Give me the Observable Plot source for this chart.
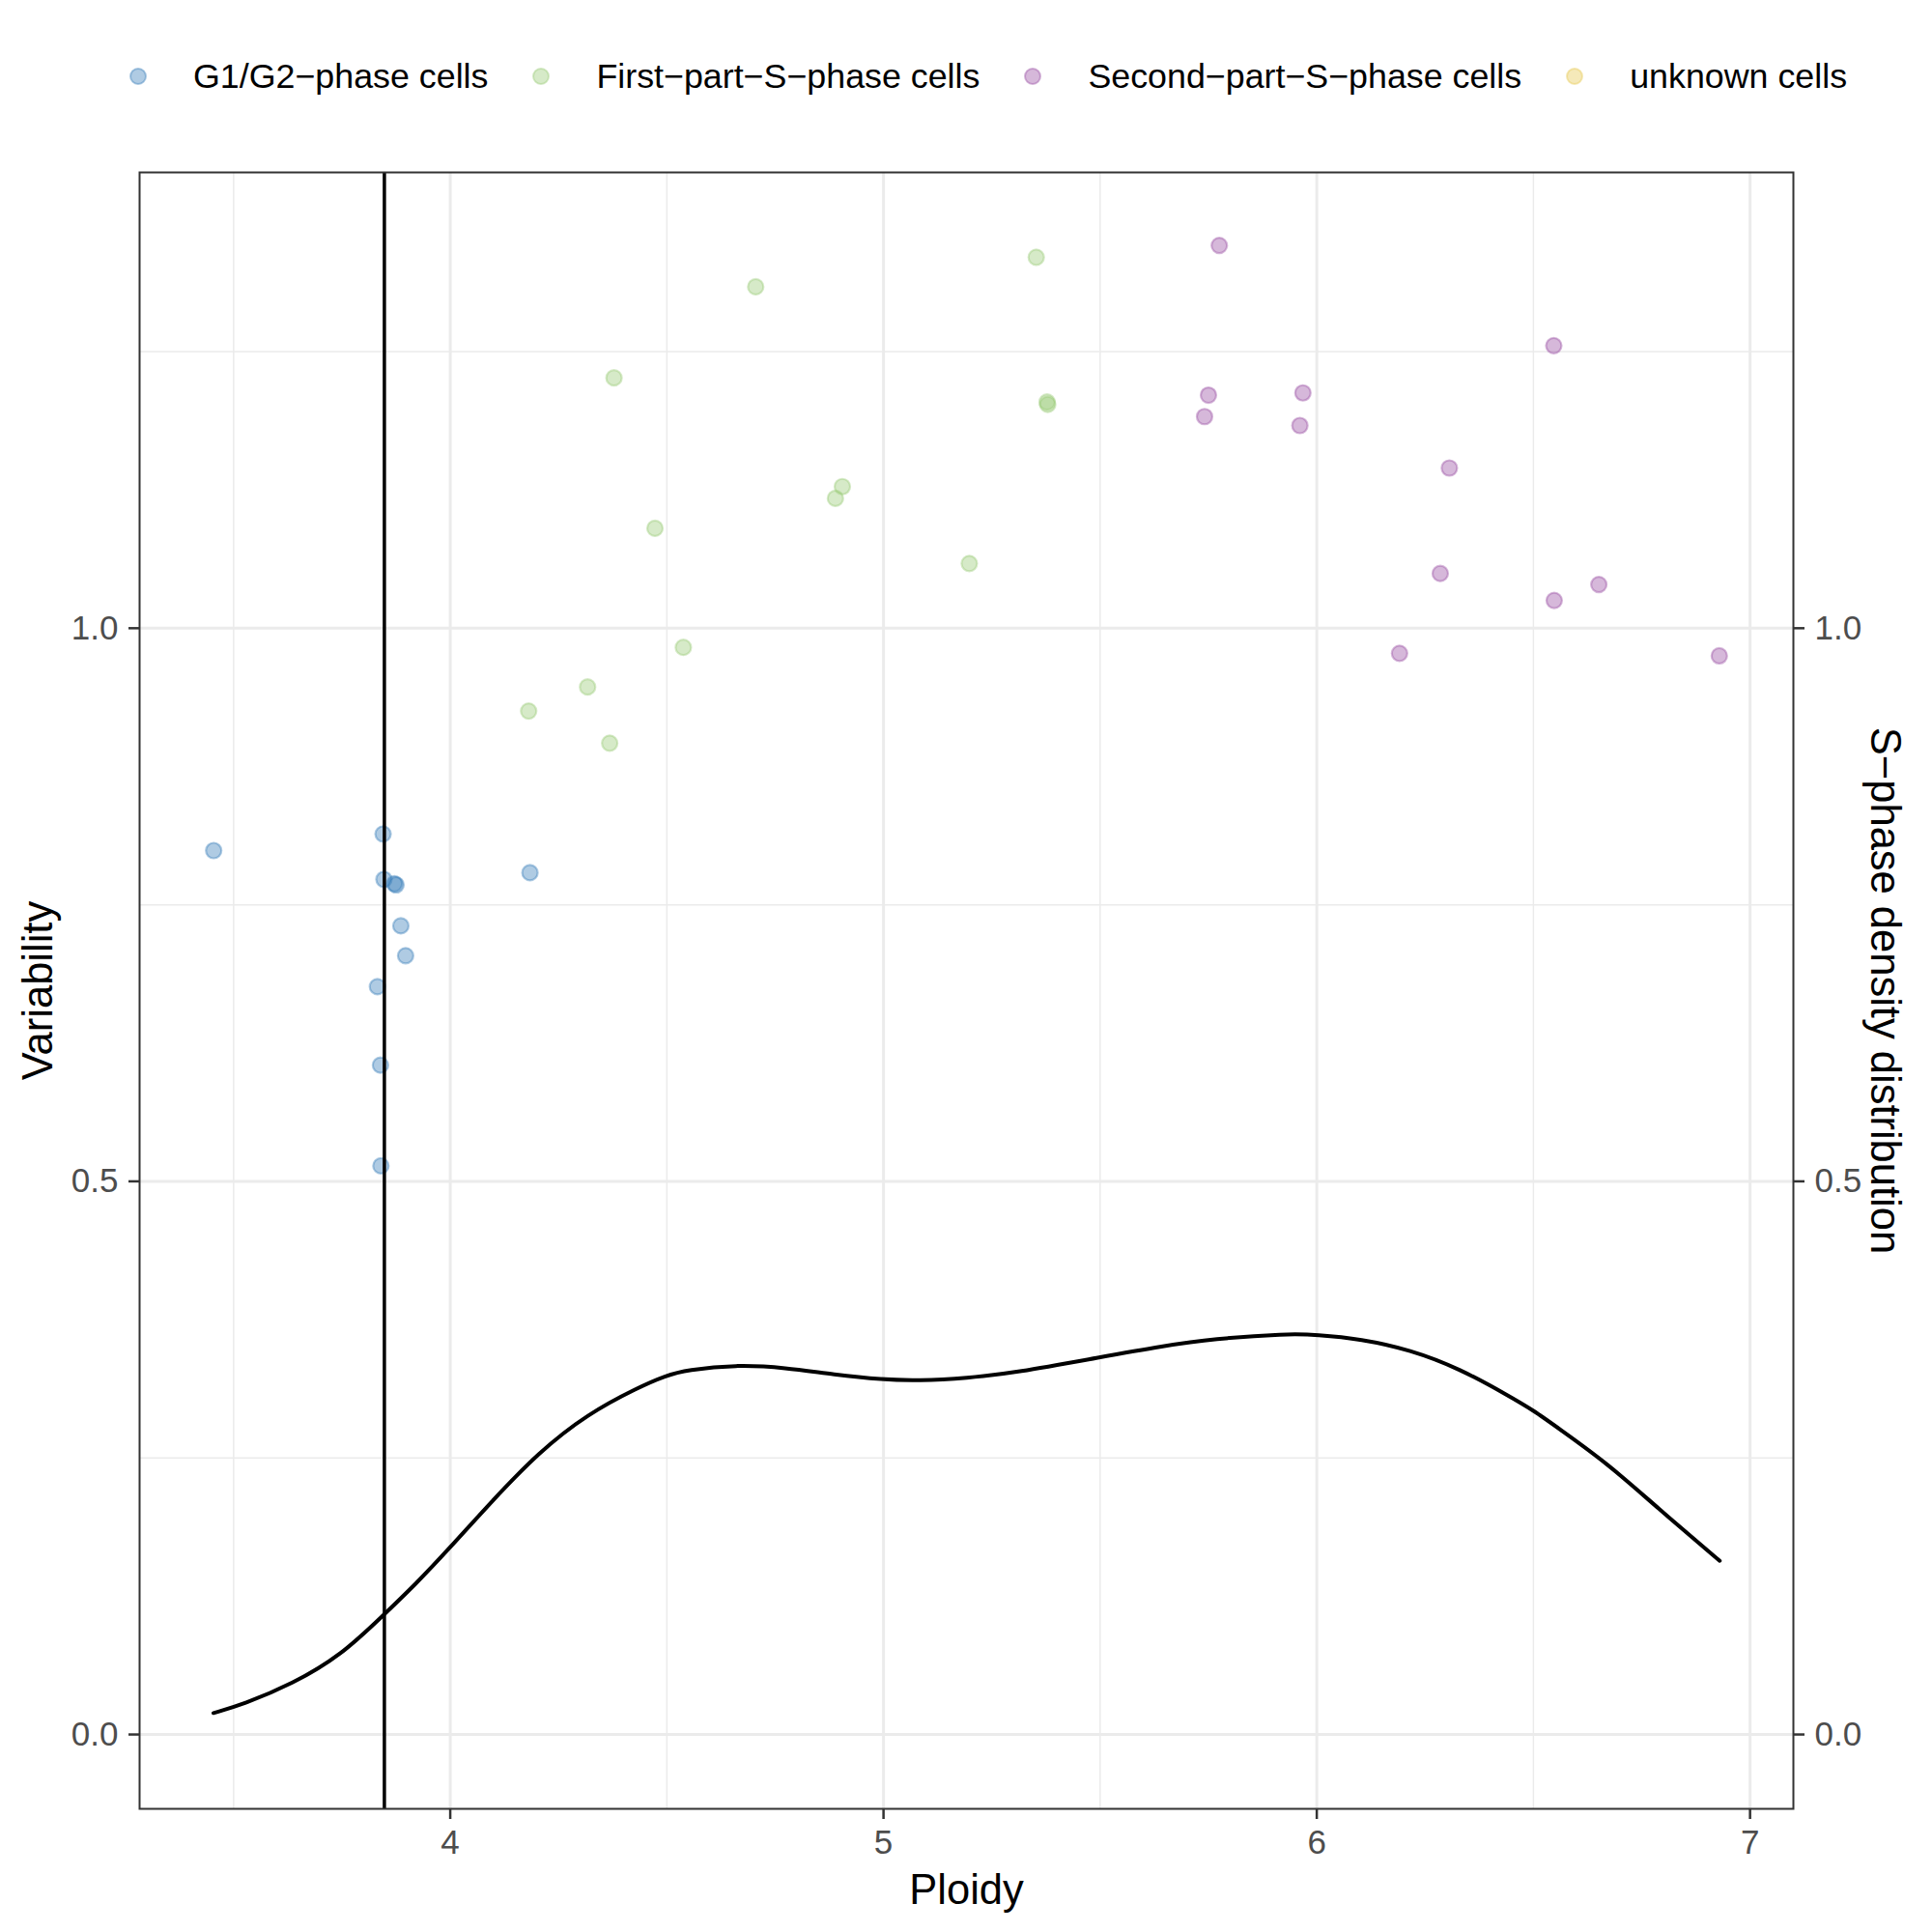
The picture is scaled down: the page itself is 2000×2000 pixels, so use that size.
<!DOCTYPE html>
<html>
<head>
<meta charset="utf-8">
<script src="https://cdn.jsdelivr.net/npm/d3@7"></script>
<script src="https://cdn.jsdelivr.net/npm/@observablehq/plot@0.6"></script>
<style>
  body { margin: 0; background: #fff; font-family: "Liberation Sans", Arial, Helvetica, sans-serif; }
  #page { width: 2000px; background: #fff; }
  #legend { box-sizing: border-box; height: 140px; padding-top: 59px; padding-left: 133px; display: flex; align-items: flex-start; }
  .item { display: flex; align-items: center; height: 40px; margin-right: 45px; }
  .key { width: 20px; height: 20px; margin-right: 47px; display: block; }
  .label { font-size: 35.8px; line-height: 40px; color: #000; white-space: nowrap; }
</style>
</head>
<body>
<div id="page">
  <div id="legend"></div>
  <div id="chart"></div>
</div>
<script>
// ---- data ----
const categories = ["G1/G2\u2212phase cells", "First\u2212part\u2212S\u2212phase cells", "Second\u2212part\u2212S\u2212phase cells", "unknown cells"];
const colors = ["#377EB8", "#99CA75", "#984EA3", "#E6C850"];

const g1Ploidy = [3.454, 3.845, 3.847, 3.871, 3.875, 3.886, 3.897, 3.832, 3.839, 3.840, 4.184];
const g1Variability = [0.799, 0.814, 0.773, 0.769, 0.768, 0.731, 0.704, 0.676, 0.605, 0.514, 0.779];

const firstPloidy = [4.705, 5.3525, 4.378, 5.3775, 5.379, 4.905, 4.889, 4.4725, 5.198, 4.538, 4.317, 4.181, 4.368];
const firstVariability = [1.3086, 1.3353, 1.2263, 1.2045, 1.2023, 1.128, 1.1174, 1.0903, 1.0585, 0.9827, 0.9469, 0.9251, 0.8961];

const secondPloidy = [5.775, 6.547, 5.750, 5.968, 5.741, 5.961, 6.306, 6.285, 6.651, 6.548, 6.191, 6.929];
const secondVariability = [1.346, 1.2554, 1.2107, 1.2127, 1.1913, 1.1832, 1.1448, 1.0495, 1.0395, 1.0251, 0.9773, 0.975];

const unknownPloidy = [];
const unknownVariability = [];

const densityPloidy = [3.4535, 3.522, 3.6355, 3.749, 3.846, 3.920, 3.997, 4.0905, 4.204, 4.318, 4.432, 4.498, 4.546, 4.659, 4.773, 4.887, 4.998, 5.080, 5.192, 5.3055, 5.499, 5.647, 5.7605, 5.931, 5.999, 6.102, 6.2155, 6.329, 6.443, 6.500, 6.557, 6.671, 6.784, 6.930];
const densityValue = [0.0194, 0.0272, 0.0456, 0.0718, 0.108, 0.1358, 0.1678, 0.2086, 0.2552, 0.290, 0.3134, 0.3245, 0.3294, 0.3343, 0.3317, 0.3251, 0.3207, 0.3198, 0.3221, 0.3271, 0.341, 0.3513, 0.3576, 0.3623, 0.3614, 0.3576, 0.3478, 0.3309, 0.3061, 0.293, 0.277, 0.245, 0.2057, 0.157];

const threshold = 3.848;

const xMajor = [4, 5, 6, 7];
const xMinor = [3.5, 4.5, 5.5, 6.5];
const yMajor = [0, 0.5, 1.0];
const yMinor = [0.25, 0.75, 1.25];
const xDomain = [3.283, 7.100];
const yDomain = [-0.0672, 1.412];

// ---- build tables ----
const groups = [
  [g1Ploidy, g1Variability],
  [firstPloidy, firstVariability],
  [secondPloidy, secondVariability],
  [unknownPloidy, unknownVariability]
];
const cells = [];
groups.forEach(([xs, ys], i) => xs.forEach((x, j) => cells.push({ploidy: x, variability: ys[j], type: categories[i]})));
const density = densityPloidy.map((x, i) => ({ploidy: x, value: densityValue[i]}));

// ---- legend ----
const legend = d3.select("#legend");
categories.forEach((c, i) => {
  const item = legend.append("div").attr("class", "item");
  const svg = item.append("svg").attr("class", "key").attr("width", 20).attr("height", 20);
  svg.append("circle").attr("cx", 10).attr("cy", 10).attr("r", 8)
    .attr("fill", colors[i]).attr("fill-opacity", 0.4)
    .attr("stroke", colors[i]).attr("stroke-opacity", 0.4).attr("stroke-width", 2);
  item.append("span").attr("class", "label").text(c);
});

// ---- chart ----
const font = "'Liberation Sans', Arial, Helvetica, sans-serif";
const grid = "#EBEBEB";
const chart = Plot.plot({
  width: 2000,
  height: 1860,
  marginTop: 38,
  marginBottom: 128,
  marginLeft: 144,
  marginRight: 144,
  style: {fontFamily: font, fontSize: "35px", background: "#fff", color: "#4D4D4D"},
  x: {domain: xDomain},
  y: {domain: yDomain},
  color: {domain: categories, range: colors},
  marks: [
    Plot.gridX(xMinor, {stroke: grid, strokeOpacity: 1, strokeWidth: 1.5}),
    Plot.gridY(yMinor, {stroke: grid, strokeOpacity: 1, strokeWidth: 1.5}),
    Plot.gridX(xMajor, {stroke: grid, strokeOpacity: 1, strokeWidth: 3}),
    Plot.gridY(yMajor, {stroke: grid, strokeOpacity: 1, strokeWidth: 3}),
    Plot.dot(cells, {x: "ploidy", y: "variability", r: 8, fill: "type", fillOpacity: 0.4, stroke: "type", strokeOpacity: 0.4, strokeWidth: 2.2}),
    Plot.line(density, {x: "ploidy", y: "value", curve: "basis", stroke: "black", strokeWidth: 4}),
    Plot.ruleX([threshold], {stroke: "black", strokeWidth: 3.5}),
    Plot.frame({stroke: "#333333", strokeWidth: 2}),
    Plot.axisX(xMajor, {anchor: "bottom", tickSize: 11, tickPadding: 11, stroke: "#333333", strokeWidth: 2.5, fill: "#4D4D4D", fontSize: 35, tickFormat: d3.format("d"), label: null}),
    Plot.axisY(yMajor, {anchor: "left", tickSize: 11, tickPadding: 11, stroke: "#333333", strokeWidth: 2.5, fill: "#4D4D4D", fontSize: 35, tickFormat: d3.format(".1f"), label: null}),
    Plot.axisY(yMajor, {anchor: "right", tickSize: 11, tickPadding: 11, stroke: "#333333", strokeWidth: 2.5, fill: "#4D4D4D", fontSize: 35, tickFormat: d3.format(".1f"), label: null}),
    Plot.text(["Ploidy"], {text: d => d, frameAnchor: "bottom", lineAnchor: "middle", textAnchor: "middle", dy: 85, fontSize: 43.5, fill: "black"}),
    Plot.text(["Variability"], {text: d => d, frameAnchor: "left", lineAnchor: "middle", textAnchor: "middle", rotate: -90, dx: -104, fontSize: 43.5, fill: "black"}),
    Plot.text(["S\u2212phase density distribution"], {text: d => d, frameAnchor: "right", lineAnchor: "middle", textAnchor: "middle", rotate: 90, dx: 94, fontSize: 43.5, fill: "black"})
  ]
});
document.getElementById("chart").appendChild(chart);
</script>
</body>
</html>
